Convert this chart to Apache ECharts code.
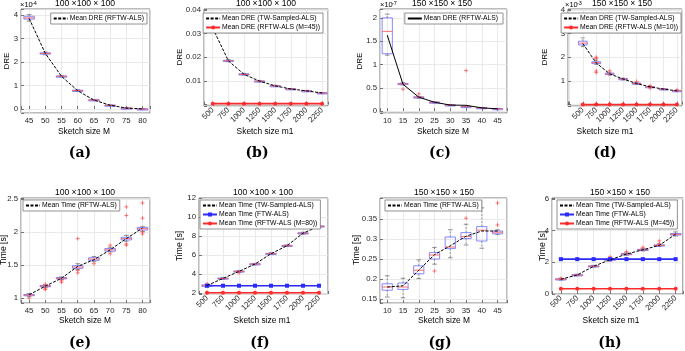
<!DOCTYPE html>
<html>
<head>
<meta charset="utf-8">
<script src="https://cdn.jsdelivr.net/npm/echarts@6.0.0/dist/echarts.min.js"></script>
<style>
html,body{margin:0;padding:0;background:#fff;}
#chart{width:685px;height:351px;}
</style>
</head>
<body>
<div id="chart"></div>
<script>
// ================= DATA =================
const sizeM100 = [45, 50, 55, 60, 65, 70, 75, 80];
const sizeM150 = [10, 15, 20, 25, 30, 35, 40, 45];
const sizeM1 = [500, 750, 1000, 1250, 1500, 1750, 2000, 2250];

// tick labels
const ticksM100 = [45, 50, 55, 60, 65, 70, 75, 80];
const ticksM150 = [10, 15, 20, 25, 30, 35, 40, 45];
const ticksM1 = [500, 750, 1000, 1250, 1500, 1750, 2000, 2250];
const yTicksA = [0, 1, 2, 3, 4];             // x10^-4
const yTicksB = [0.01, 0.02, 0.03, 0.04];
const yTicksC = [0, 0.5, 1, 1.5, 2];         // x10^-7
const yTicksD = [1, 2, 3, 4];                // x10^-3
const yTicksE = [1, 1.5, 2, 2.5];
const yTicksF = [2, 4, 6, 8, 10, 12];
const yTicksG = [0.15, 0.2, 0.25, 0.3, 0.35, 0.4];
const yTicksH = [0, 2, 4, 6];

// (a) DRE (x10^-4), 100x100x100, RFTW-ALS vs M
const dreA_mean = [3.86, 2.37, 1.39, 0.78, 0.38, 0.16, 0.04, 0.005];
const dreA_box = [[3.74,3.83,3.88,3.95,4.02],[2.31,2.35,2.37,2.39,2.43],[1.37,1.385,1.395,1.405,1.42],[0.75,0.77,0.785,0.80,0.82],[0.36,0.375,0.385,0.395,0.41],[0.145,0.155,0.16,0.165,0.175],[0.035,0.038,0.04,0.042,0.045],[0.002,0.004,0.005,0.006,0.008]];
const dreA_out = [];

// (b) DRE, 100x100x100, TW-Sampled-ALS vs m1, RFTW-ALS (M=45)
const dreB_tw = [0.0323, 0.0185, 0.0128, 0.0099, 0.0079, 0.0066, 0.0058, 0.0049];
const dreB_rf = [0.00039, 0.00039, 0.00039, 0.00039, 0.00039, 0.00039, 0.00039, 0.00039];
const dreB_box = [[0.0318,0.0321,0.0324,0.0327,0.0331],[0.0181,0.0183,0.0185,0.0187,0.0190],[0.0125,0.0127,0.0128,0.0130,0.0132],[0.0096,0.0098,0.0099,0.0100,0.0102],[0.0077,0.0078,0.0079,0.0080,0.0082],[0.0064,0.0065,0.0066,0.0067,0.0068],[0.0056,0.0057,0.0058,0.0059,0.0060],[0.0047,0.0048,0.0049,0.0050,0.0051]];
const dreB_out = [[500, 0.0341]];

// (c) DRE (x10^-7), 150x150x150, RFTW-ALS vs M
const dreC_mean = [1.63, 0.575, 0.30, 0.19, 0.13, 0.125, 0.07, 0.05];
const dreC_box = [[1.20,1.23,1.71,2.00,2.08],[0.56,0.575,0.585,0.595,0.61],[0.28,0.29,0.30,0.305,0.315],[0.175,0.185,0.19,0.195,0.20],[0.12,0.125,0.13,0.135,0.14],[0.085,0.09,0.095,0.10,0.105],[0.06,0.065,0.07,0.075,0.08],[0.045,0.05,0.052,0.055,0.06]];
const dreC_out = [[15, 0.47], [20, 0.37], [35, 0.87]];

// (d) DRE (x10^-3), 150x150x150, TW-Sampled-ALS vs m1, RFTW-ALS (M=10)
const dreD_tw = [2.58, 1.76, 1.30, 1.08, 0.89, 0.75, 0.655, 0.58];
const dreD_rf = [0.00016, 0.00016, 0.00016, 0.00016, 0.00016, 0.00016, 0.00016, 0.00016];
const dreD_box = [[2.45,2.52,2.60,2.68,2.82],[1.70,1.73,1.77,1.81,1.88],[1.24,1.27,1.30,1.33,1.37],[1.04,1.06,1.08,1.10,1.12],[0.85,0.87,0.89,0.91,0.93],[0.72,0.74,0.75,0.76,0.78],[0.63,0.645,0.655,0.665,0.68],[0.56,0.57,0.58,0.59,0.60]];
const dreD_out = [[500,3.38],[750,1.95],[750,2.0],[750,1.35],[750,1.42],[1000,1.43],[1500,0.98],[1750,0.79],[1750,0.70],[2250,0.63]];

// (e) Time [s], 100x100x100, RFTW-ALS vs M
const timeE_mean = [1.05, 1.18, 1.30, 1.48, 1.58, 1.73, 1.90, 2.06];
const timeE_box = [[1.02,1.035,1.045,1.055,1.07],[1.16,1.17,1.18,1.19,1.20],[1.28,1.29,1.30,1.31,1.32],[1.43,1.45,1.47,1.49,1.52],[1.55,1.57,1.59,1.61,1.63],[1.70,1.71,1.73,1.75,1.77],[1.86,1.88,1.90,1.92,1.95],[2.01,2.03,2.05,2.07,2.08]];
const timeE_out = [[45,1.0],[50,1.21],[50,1.14],[50,1.13],[55,1.26],[55,1.24],[60,1.9],[60,1.42],[60,1.38],[65,1.52],[70,1.8],[70,1.67],[75,2.38],[75,2.25],[75,1.82],[75,1.8],[80,2.44],[80,2.21],[80,1.97],[80,2.0]];

// (f) Time [s], 100x100x100
const timeF_tw = [2.80, 3.54, 4.28, 5.05, 6.14, 6.98, 8.30, 9.02];
const timeF_ftw = [2.77, 2.77, 2.77, 2.77, 2.77, 2.77, 2.77, 2.77];
const timeF_rf = [2.03, 2.03, 2.03, 2.03, 2.03, 2.03, 2.03, 2.03];
const timeF_box = [[2.62,2.70,2.78,2.86,2.92],[3.45,3.50,3.54,3.58,3.62],[4.18,4.24,4.28,4.32,4.38],[4.97,5.02,5.05,5.08,5.12],[6.05,6.10,6.14,6.18,6.24],[6.90,6.95,6.98,7.02,7.07],[8.20,8.26,8.30,8.34,8.40],[8.92,8.98,9.02,9.06,9.12]];
const timeF_out = [[500, 2.96], [1000, 4.12]];

// (g) Time [s], 150x150x150, RFTW-ALS vs M
const timeG_mean = [0.180, 0.183, 0.222, 0.261, 0.283, 0.307, 0.320, 0.320];
const timeG_box = [[0.155,0.172,0.180,0.188,0.208],[0.153,0.174,0.180,0.190,0.202],[0.201,0.213,0.222,0.233,0.248],[0.237,0.250,0.260,0.266,0.279],[0.253,0.276,0.280,0.305,0.323],[0.285,0.301,0.306,0.316,0.337],[0.277,0.295,0.322,0.331,0.378],[0.311,0.313,0.317,0.320,0.323]];
const timeG_out = [[25,0.22],[35,0.352],[45,0.39],[45,0.335]];

// (h) Time [s], 150x150x150
const timeH_tw = [0.93, 1.20, 1.75, 2.16, 2.52, 2.79, 3.07, 3.78];
const timeH_ftw = [2.20, 2.20, 2.20, 2.20, 2.20, 2.20, 2.20, 2.20];
const timeH_rf = [0.33, 0.33, 0.33, 0.33, 0.33, 0.33, 0.33, 0.33];
const timeH_box = [[0.88,0.90,0.93,0.96,0.99],[1.15,1.18,1.20,1.22,1.25],[1.70,1.73,1.75,1.78,1.81],[2.08,2.12,2.16,2.20,2.26],[2.45,2.49,2.52,2.55,2.60],[2.72,2.76,2.79,2.82,2.88],[3.00,3.04,3.07,3.10,3.16],[3.66,3.72,3.77,3.82,3.92]];
const timeH_out = [[500,1.0],[1250,2.35],[1500,2.68],[1750,2.95],[2000,3.35],[2000,3.15]];

// ================= STYLE / LAYOUT =================
const FONT = "'Liberation Sans',Arial,sans-serif";
const GRID_C = '#e4e4e4';
const BORDER_C = '#555';
const TICK_FS = 7.8;

const layout = [
  {grid:[21,9,129,104],  x:[42.5,82.3],  y:[-0.17,4.26],     xt:ticksM100, yt:yTicksA, rot:0},
  {grid:[204,9,124,97],  x:[360,2345],   y:[-0.0006,0.0404], xt:ticksM1,   yt:yTicksB, rot:45},
  {grid:[380,9,127,104], x:[7.7,48],     y:[-0.04,2.19],     xt:ticksM150, yt:yTicksC, rot:0},
  {grid:[568,9,114,97],  x:[225,2345],   y:[-0.06,4.04],     xt:ticksM1,   yt:yTicksD, rot:45},
  {grid:[21,198,129,105],x:[42.5,82.3],  y:[0.925,2.515],    xt:ticksM100, yt:yTicksE, rot:0},
  {grid:[199,198,129,96],x:[375,2390],   y:[1.9,12],         xt:ticksM1,   yt:yTicksF, rot:45},
  {grid:[380,198,127,105],x:[7.7,48],    y:[0.14,0.4025],    xt:ticksM150, yt:yTicksG, rot:0},
  {grid:[552,198,132,96],x:[365,2360],   y:[0,6.06],         xt:ticksM1,   yt:yTicksH, rot:45}
];

function tickFormatter(ticks) {
  return function (v) {
    for (const t of ticks) {
      if (Math.abs(t - v) < 1e-9 * Math.max(1, Math.abs(t)) + 1e-12) return String(t);
    }
    return '';
  };
}
function stepOf(ticks) { return ticks[1] - ticks[0]; }

const grids = [], xAxes = [], yAxes = [];
layout.forEach((L, i) => {
  grids.push({left:L.grid[0], top:L.grid[1], width:L.grid[2], height:L.grid[3],
    show:true, borderColor:BORDER_C, borderWidth:0.8, backgroundColor:'#fff'});
  const xs = stepOf(L.xt), ys = stepOf(L.yt);
  xAxes.push({gridIndex:i, type:'value', min:L.x[0], max:L.x[1], minInterval:xs, maxInterval:xs, splitNumber:8,
    axisLine:{show:false}, axisTick:{show:true, inside:true, length:3, lineStyle:{color:BORDER_C, width:0.8}},
    axisLabel:{fontSize:TICK_FS, fontFamily:FONT, color:'#262626', margin:L.rot ? 3 : 4, rotate:L.rot, formatter:tickFormatter(L.xt)},
    splitLine:{show:true, lineStyle:{color:GRID_C, width:0.8}}});
  yAxes.push({gridIndex:i, type:'value', min:L.y[0], max:L.y[1], minInterval:ys, maxInterval:ys, splitNumber:5,
    axisLine:{show:false}, axisTick:{show:true, inside:true, length:3, lineStyle:{color:BORDER_C, width:0.8}},
    axisLabel:{fontSize:TICK_FS, fontFamily:FONT, color:'#262626', margin:3, formatter:tickFormatter(L.yt)},
    splitLine:{show:true, lineStyle:{color:GRID_C, width:0.8}}});
});

const series = [];
const PLUS = 'path://M5,0L5,10M0,5L10,5';

function addBoxes(i, xs, boxes, spacing) {
  series.push({
    type:'custom', xAxisIndex:i, yAxisIndex:i, z:2, silent:true, clip:false,
    data: xs.map((x, k) => [x].concat(boxes[k])),
    encode:{x:0, y:[1,2,3,4,5]},
    renderItem: function (params, api) {
      const x = api.value(0);
      const pLo = api.coord([x, api.value(1)]);
      const pQ1 = api.coord([x, api.value(2)]);
      const pMd = api.coord([x, api.value(3)]);
      const pQ3 = api.coord([x, api.value(4)]);
      const pHi = api.coord([x, api.value(5)]);
      const w = Math.min(api.size([spacing, 0])[0] * 0.65, 11);
      const cx = pMd[0], cap = w * 0.45;
      const wh = {stroke:'#4a4a4a', lineWidth:0.6, lineDash:[2,1.5]};
      const wc = {stroke:'#4a4a4a', lineWidth:0.6};
      return {type:'group', children:[
        {type:'line', shape:{x1:cx, y1:pQ3[1], x2:cx, y2:pHi[1]}, style:wh},
        {type:'line', shape:{x1:cx, y1:pQ1[1], x2:cx, y2:pLo[1]}, style:wh},
        {type:'line', shape:{x1:cx-cap/2, y1:pHi[1], x2:cx+cap/2, y2:pHi[1]}, style:wc},
        {type:'line', shape:{x1:cx-cap/2, y1:pLo[1], x2:cx+cap/2, y2:pLo[1]}, style:wc},
        {type:'rect', shape:{x:cx-w/2, y:pQ3[1], width:w, height:Math.max(pQ1[1]-pQ3[1], 1.2)}, style:{fill:'none', stroke:'#6b6bff', lineWidth:0.8}},
        {type:'line', shape:{x1:cx-w/2, y1:pMd[1], x2:cx+w/2, y2:pMd[1]}, style:{stroke:'#ff4a4a', lineWidth:0.8}}
      ]};
    }
  });
}
function addOutliers(i, outs) {
  if (!outs.length) return;
  series.push({type:'scatter', xAxisIndex:i, yAxisIndex:i, z:3, silent:true, data:outs,
    symbol:PLUS, symbolSize:4, itemStyle:{color:'rgba(0,0,0,0)', borderColor:'#ff3b3b', borderWidth:0.8}});
}
function pair(xs, ys) { return xs.map((x, k) => [x, ys[k]]); }
function addMean(i, name, xs, ys, solid) {
  series.push({type:'line', name:name, xAxisIndex:i, yAxisIndex:i, z:5, data:pair(xs, ys), symbol:'none',
    lineStyle:{color:'#000', width:1, type: solid ? 'solid' : [3,1.5]}, itemStyle:{color:'#000'}});
}
function addFlat(i, name, xs, ys, color, sym) {
  series.push({type:'line', name:name, xAxisIndex:i, yAxisIndex:i, z:4, data:pair(xs, ys), symbol:sym, symbolSize:4,
    lineStyle:{color:color, width:1.6}, itemStyle:{color:color}});
}

// (a)
addBoxes(0, sizeM100, dreA_box, 5); addOutliers(0, dreA_out);
addMean(0, 'Mean DRE (RFTW-ALS)', sizeM100, dreA_mean, false);
// (b)
addBoxes(1, sizeM1, dreB_box, 250); addOutliers(1, dreB_out);
addFlat(1, 'Mean DRE (RFTW-ALS (M=45))', sizeM1, dreB_rf, '#ff2b2b', 'circle');
addMean(1, 'Mean DRE (TW-Sampled-ALS)', sizeM1, dreB_tw, false);
// (c)
addBoxes(2, sizeM150, dreC_box, 5); addOutliers(2, dreC_out);
addMean(2, 'Mean DRE (RFTW-ALS) ', sizeM150, dreC_mean, true);
// (d)
addBoxes(3, sizeM1, dreD_box, 250); addOutliers(3, dreD_out);
addFlat(3, 'Mean DRE (RFTW-ALS (M=10))', sizeM1, dreD_rf, '#ff2b2b', 'circle');
addMean(3, 'Mean DRE (TW-Sampled-ALS)', sizeM1, dreD_tw, false);
// (e)
addBoxes(4, sizeM100, timeE_box, 5); addOutliers(4, timeE_out);
addMean(4, 'Mean Time (RFTW-ALS)', sizeM100, timeE_mean, false);
// (f)
addBoxes(5, sizeM1, timeF_box, 250); addOutliers(5, timeF_out);
addFlat(5, 'Mean Time (FTW-ALS)', sizeM1, timeF_ftw, '#2b2bff', 'rect');
addFlat(5, 'Mean Time (RFTW-ALS (M=80))', sizeM1, timeF_rf, '#ff2b2b', 'circle');
addMean(5, 'Mean Time (TW-Sampled-ALS)', sizeM1, timeF_tw, false);
// (g)
addBoxes(6, sizeM150, timeG_box, 5); addOutliers(6, timeG_out);
addMean(6, 'Mean Time (RFTW-ALS)', sizeM150, timeG_mean, false);
// (h)
addBoxes(7, sizeM1, timeH_box, 250); addOutliers(7, timeH_out);
addFlat(7, 'Mean Time (FTW-ALS)', sizeM1, timeH_ftw, '#2b2bff', 'rect');
addFlat(7, 'Mean Time (RFTW-ALS (M=45))', sizeM1, timeH_rf, '#ff2b2b', 'circle');
addMean(7, 'Mean Time (TW-Sampled-ALS)', sizeM1, timeH_tw, false);

// ================= LEGENDS =================
const legendBase = {orient:'vertical', itemWidth:14, itemHeight:5, itemGap:2, padding:[2,3,2,2],
  backgroundColor:'#fff', borderColor:'#777', borderWidth:0.8, selectedMode:false, z:10,
  textStyle:{fontSize:6.8, fontFamily:FONT, color:'#000', padding:[0,0,0,-3]}};
function li(name, hideSymbol) { return hideSymbol ? {name:name, itemStyle:{opacity:0}} : {name:name}; }
const legends = [
  Object.assign({}, legendBase, {data:[li('Mean DRE (RFTW-ALS)', true)], right:538, top:13}),
  Object.assign({}, legendBase, {data:[li('Mean DRE (TW-Sampled-ALS)', true), li('Mean DRE (RFTW-ALS (M=45))')], right:362, top:13}),
  Object.assign({}, legendBase, {data:[li('Mean DRE (RFTW-ALS) ', true)], right:182, top:13}),
  Object.assign({}, legendBase, {data:[li('Mean DRE (TW-Sampled-ALS)', true), li('Mean DRE (RFTW-ALS (M=10))')], right:4, top:13}),
  Object.assign({}, legendBase, {data:[li('Mean Time (RFTW-ALS)', true)], left:23, top:200}),
  Object.assign({}, legendBase, {data:[li('Mean Time (TW-Sampled-ALS)', true), li('Mean Time (FTW-ALS)'), li('Mean Time (RFTW-ALS (M=80))')], left:200, top:200}),
  Object.assign({}, legendBase, {data:[li('Mean Time (RFTW-ALS)', true)], left:385, top:200}),
  Object.assign({}, legendBase, {data:[li('Mean Time (TW-Sampled-ALS)', true), li('Mean Time (FTW-ALS)'), li('Mean Time (RFTW-ALS (M=45))')], left:557, top:200})
];

// ================= TEXTS =================
const panelTitles = ['100 ×100 × 100','100 ×100 × 100','150 ×150 × 150','150 ×150 × 150','100 ×100 × 100','100 ×100 × 100','150 ×150 × 150','150 ×150 × 150'];
const yNames = ['DRE','DRE','DRE','DRE','Time [s]','Time [s]','Time [s]','Time [s]'];
const xNames = ['Sketch size M','Sketch size m1','Sketch size M','Sketch size m1','Sketch size M','Sketch size m1','Sketch size M','Sketch size m1'];
const subLabels = ['(a)','(b)','(c)','(d)','(e)','(f)','(g)','(h)'];
const exponents = [['-4', 20, 4], ['-7', 380, 4], ['-3', 565, 4]];

const titlePos = [[85,4],[266,4],[442,4],[622,4],[85,193],[263,193],[444,193],[620,193]];
const yNamePos = [[7,61],[180,57],[360,61],[545,57],[4,250],[180,246],[357,250],[543,246]];
const xNamePos = [[84,132],[265,132],[443,132],[605,132],[85,321],[262,321],[444,321],[611,321]];
const subPos = [[80,153],[257,153],[440,153],[605,153],[80,343],[260,343],[440,343],[610,343]];

function txt(x, y, text, size, extra) {
  return Object.assign({type:'text', x:x, y:y, silent:true, z:20,
    style:{text:text, fill:'#000', fontSize:size, fontFamily:FONT, align:'center', verticalAlign:'middle'}}, extra || {});
}
const graphics = [];
for (let i = 0; i < 8; i++) {
  graphics.push(txt(titlePos[i][0], titlePos[i][1], panelTitles[i], 8.6));
  graphics.push(txt(xNamePos[i][0], xNamePos[i][1], xNames[i], 8.4));
  graphics.push(txt(yNamePos[i][0], yNamePos[i][1], yNames[i], i < 4 ? 8 : 8.6, {rotation: Math.PI / 2}));
  const s = txt(subPos[i][0], subPos[i][1], subLabels[i], 14);
  s.style.fontFamily = "'DejaVu Serif',serif"; s.style.fontWeight = 'bold';
  graphics.push(s);
}
exponents.forEach(e => {
  const t1 = txt(e[1], e[2] + 1, '×10', 7.5); t1.style.align = 'left'; graphics.push(t1);
  const t2 = txt(e[1] + 12, e[2] - 1, e[0], 5.5); t2.style.align = 'left'; graphics.push(t2);
});

const chart = echarts.init(document.getElementById('chart'), null, {renderer:'canvas'});
chart.setOption({
  animation:false,
  backgroundColor:'#fff',
  grid:grids, xAxis:xAxes, yAxis:yAxes,
  legend:legends,
  series:series,
  graphic:graphics
});
</script>
</body>
</html>
